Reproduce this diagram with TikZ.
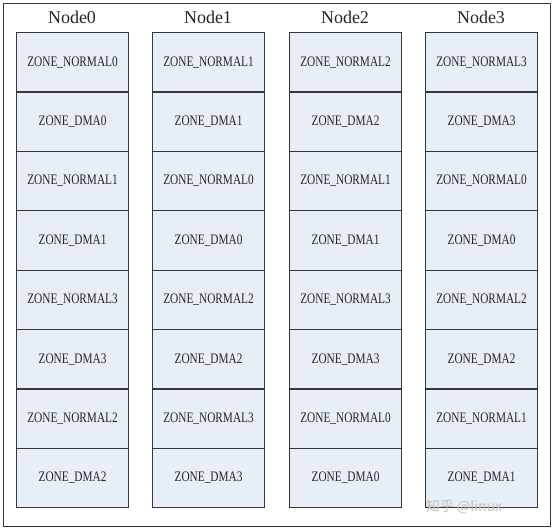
\documentclass[tikz,border=0pt]{standalone}
\usepackage{fontspec}
\setmainfont{Liberation Serif}
\newfontfamily\zonefont[FakeStretch=0.78]{Liberation Serif}
\newfontfamily\cjkfont{Noto Sans CJK SC}
\definecolor{zonefill}{RGB}{232,238,247}
\definecolor{zoneline}{RGB}{55,55,55}
\tikzset{
  zonebox/.style={draw=zoneline, fill=zonefill, line width=1.1pt, minimum width=112pt,
    minimum height=59.4pt, inner sep=0pt, anchor=north west,
    font=\zonefont\fontsize{14.5}{14.5}\selectfont, text=black!85},
  headlabel/.style={font=\fontsize{18}{18}\selectfont, text=black!85},
  frame/.style={draw=zoneline, line width=1.1pt}
}
\begin{document}
\begin{tikzpicture}[x=1pt,y=-1pt]
\useasboundingbox (0,0) rectangle (554,530);
\node[frame, minimum width=547pt, minimum height=523pt, anchor=north west, inner sep=0pt] (outer) at (3,3) {};
\foreach \c/\x/\lst in {
  0/16/{NORMAL0,DMA0,NORMAL1,DMA1,NORMAL3,DMA3,NORMAL2,DMA2},
  1/152/{NORMAL1,DMA1,NORMAL0,DMA0,NORMAL2,DMA2,NORMAL3,DMA3},
  2/289/{NORMAL2,DMA2,NORMAL1,DMA1,NORMAL3,DMA3,NORMAL0,DMA0},
  3/425/{NORMAL3,DMA3,NORMAL0,DMA0,NORMAL2,DMA2,NORMAL1,DMA1}} {
  \node[headlabel] (head\c) at (\x+56,17) {Node\c};
  \foreach \lab [count=\r from 0] in \lst {
    \node[zonebox] (z\c-\r) at (\x,32+59.4*\r) {ZONE\_\lab};
  }
}
\node[font=\cjkfont\fontsize{14}{14}\selectfont, text=black!25, anchor=center] (mark) at (464,507) {知乎 @linux};
\end{tikzpicture}
\end{document}
